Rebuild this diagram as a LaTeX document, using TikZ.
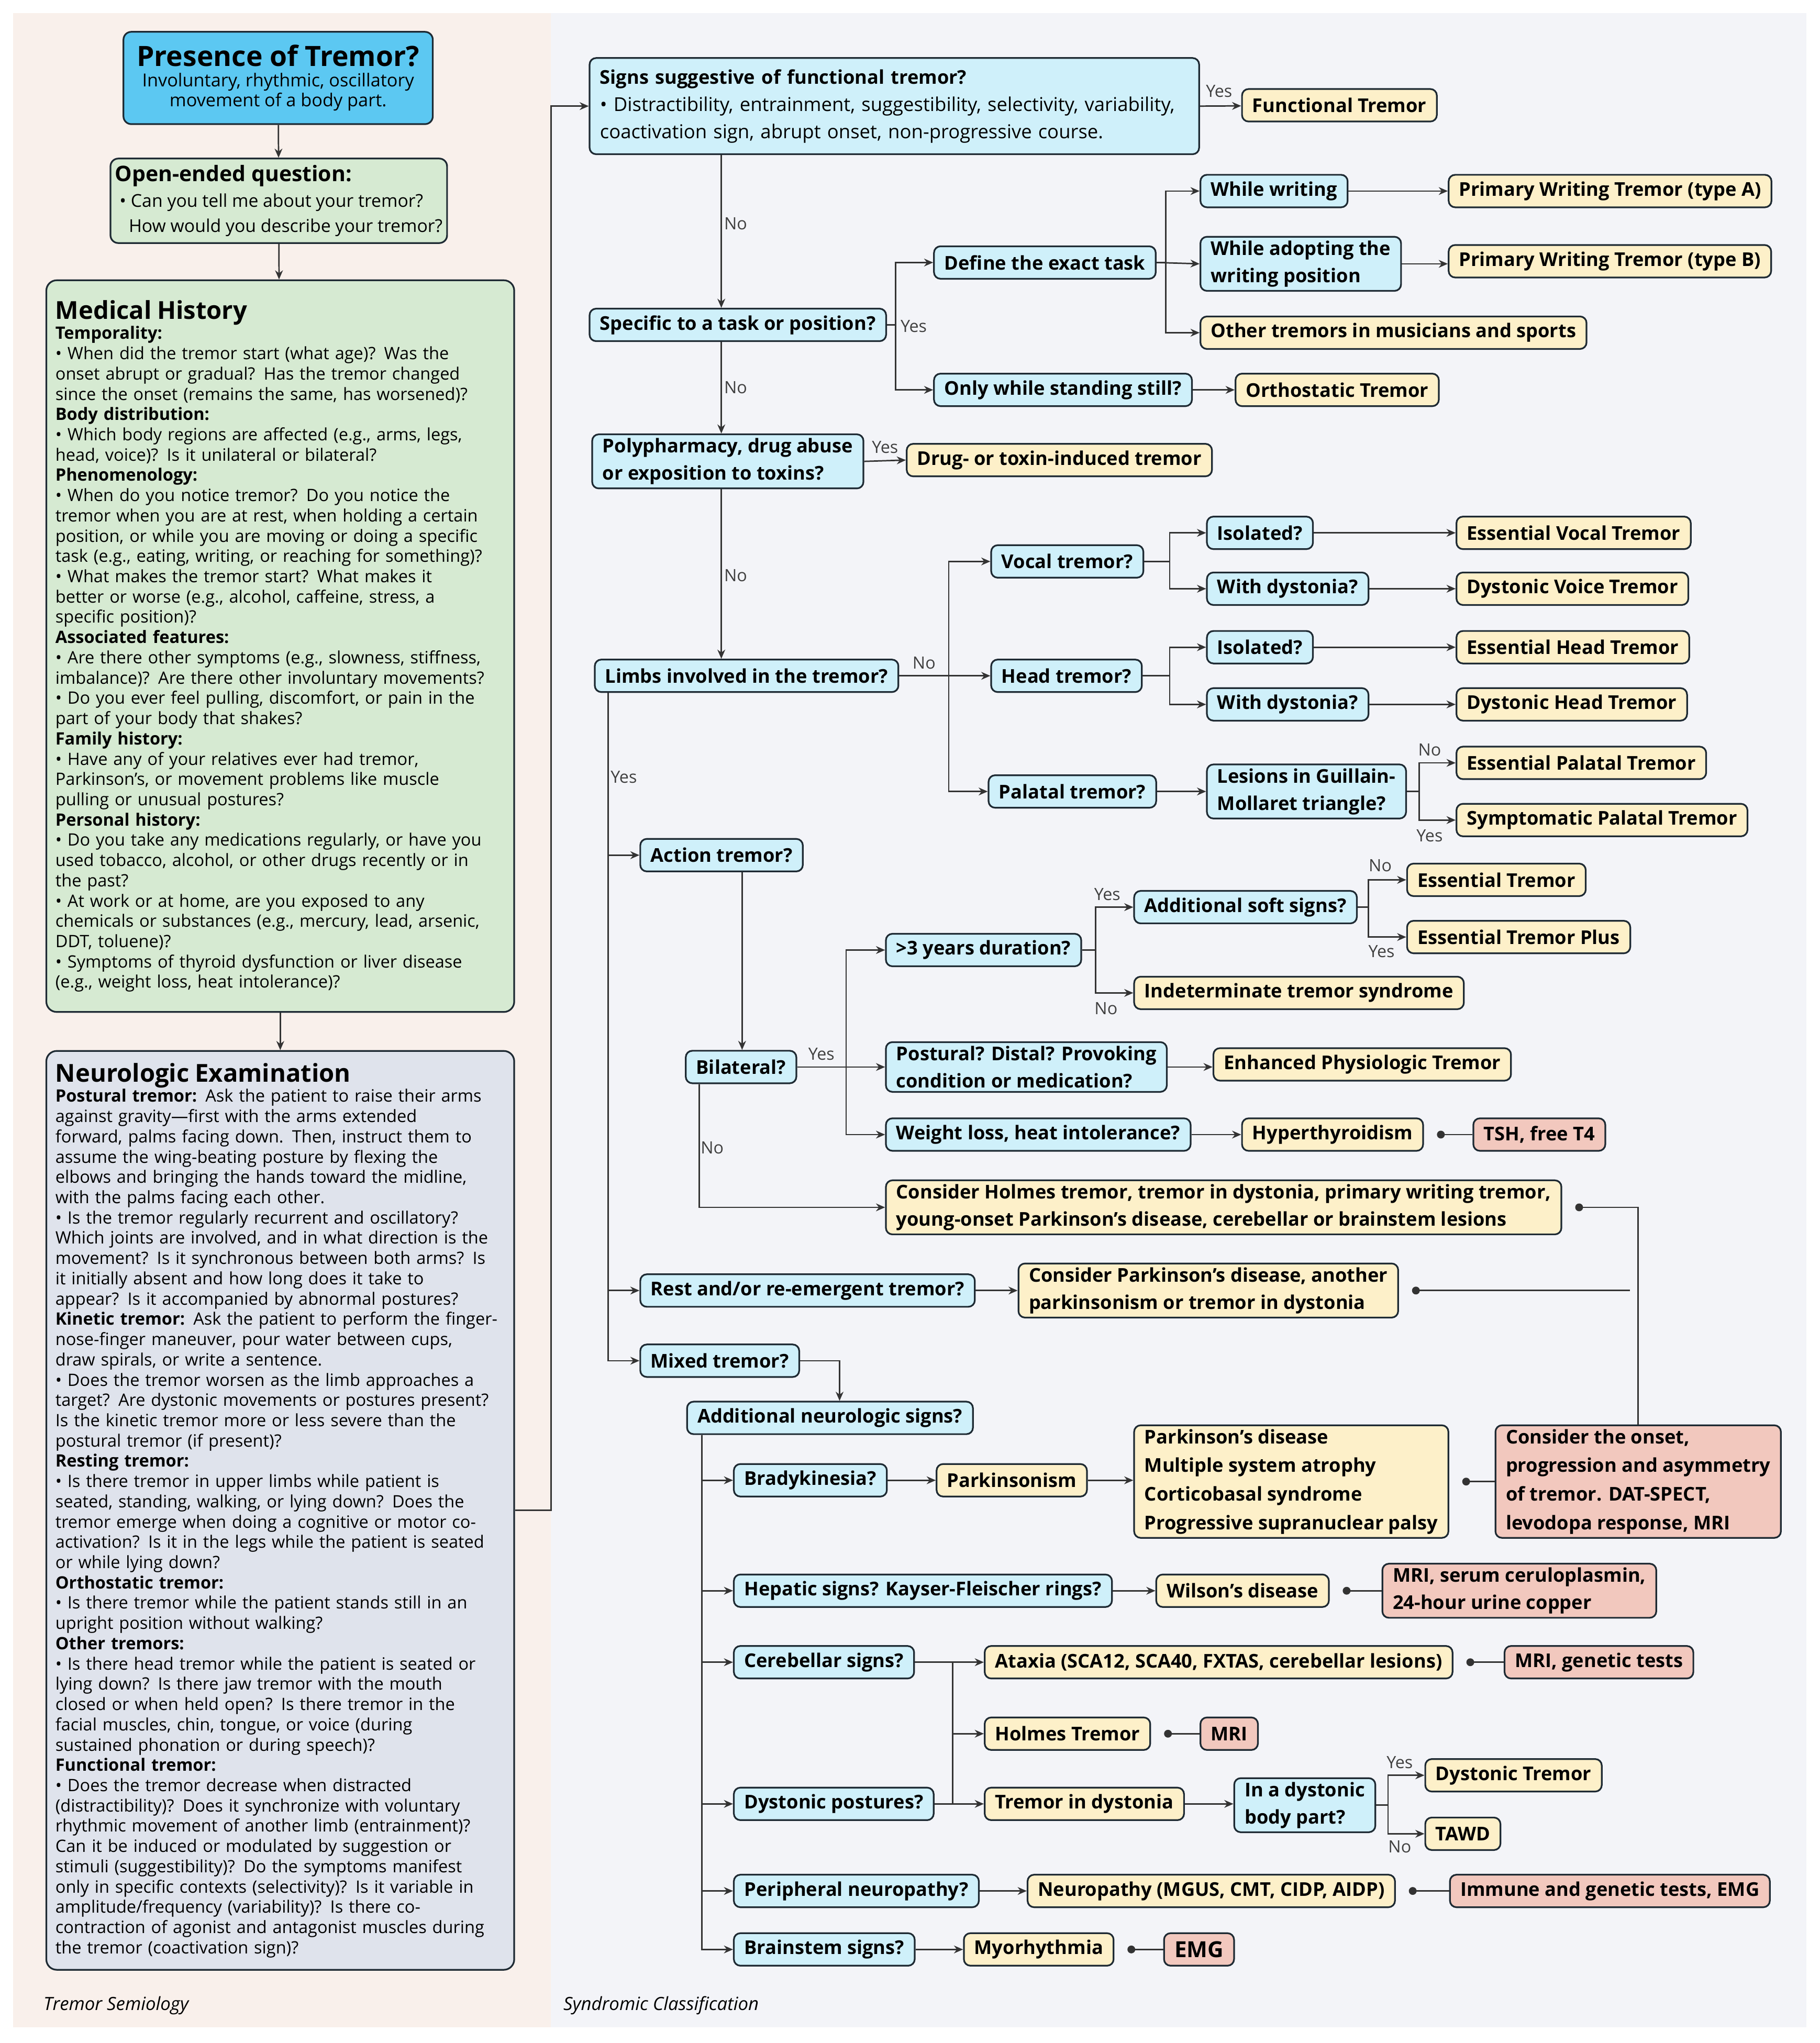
\documentclass[tikz,border=0pt]{standalone}
\usepackage{fontspec}
\setmainfont{Open Sans}
\usetikzlibrary{arrows.meta}
\definecolor{qb}{HTML}{CFF0FA}
\definecolor{ry}{HTML}{FDF0C9}
\definecolor{tr}{HTML}{F2C8BE}
\definecolor{gr}{HTML}{D6EAD2}
\definecolor{gy}{HTML}{DFE3EC}
\definecolor{tb}{HTML}{5CC8F2}
\definecolor{bgL}{HTML}{F9F0EB}
\definecolor{bgR}{HTML}{F3F4F8}
\definecolor{edge}{HTML}{1E2A33}
\definecolor{lnc}{HTML}{333333}
\begin{document}
\begin{tikzpicture}[x=1pt,y=-1pt,
 box/.style={draw=edge, line width=1.3pt, rounded corners=5pt, font=\fontsize{14.6}{21}\selectfont\bfseries, inner xsep=8pt, inner ysep=3pt, minimum height=25pt, align=left, anchor=west},
 q/.style={box, fill=qb}, r/.style={box, fill=ry}, t/.style={box, fill=tr},
 arr/.style={line width=1.1pt, draw=lnc, -{Stealth[length=7pt,width=6pt]}},
 ln/.style={line width=1.1pt, draw=lnc},
 dl/.style={line width=1.1pt, draw=lnc, {Circle[length=6pt]}-, shorten <=10pt},
 lab/.style={font=\fontsize{13}{15}\selectfont, text=black!75},
 big/.style={draw=edge, line width=1.3pt, rounded corners=8pt, anchor=north west, align=left, inner xsep=7pt, inner ysep=5pt, font=\fontsize{13.1}{15.6}\selectfont, text width=346pt}]
\useasboundingbox (0,0) rectangle (1400,1572);
\fill[white] (0,0) rectangle (1400,1572);
\fill[bgL] (10,10) rectangle (424,1560);
\fill[bgR] (424,10) rectangle (1390,1560);
\node[anchor=west, font=\fontsize{14}{16}\selectfont\itshape] (capL) at (30,1543) {Tremor Semiology};
\node[anchor=west, font=\fontsize{14}{16}\selectfont\itshape] (capR) at (430,1543) {Syndromic Classification};

% left
\node[draw=edge, line width=1.3pt, rounded corners=6pt, fill=tb, minimum width=238pt, minimum height=71pt, align=center, inner sep=3pt, font=\fontsize{13.8}{15.5}\selectfont] (pres) at (214,60) {{\fontsize{21.5}{24}\selectfont\bfseries Presence of Tremor?}\\ Involuntary, rhythmic, oscillatory\\ movement of a body part.};
\node[draw=edge, line width=1.3pt, rounded corners=6pt, fill=gr, minimum width=259pt, minimum height=65pt, align=left, inner sep=3pt, font=\fontsize{13.6}{19.5}\selectfont] (oeq) at (214.5,154.5) {{\fontsize{16.5}{19}\selectfont\bfseries Open-ended question:}\\ \ \textbullet\ Can you tell me about your tremor?\\ \ \ \ How would you describe your tremor?};
\node[big, fill=gr, minimum height=563pt] (mh) at (35,215) {{\fontsize{19}{19}\selectfont\bfseries Medical History}\\
\textbf{Temporality:}\\
\textbullet\ When did the tremor start (what age)? Was the\\
onset abrupt or gradual? Has the tremor changed\\
since the onset (remains the same, has worsened)?\\
\textbf{Body distribution:}\\
\textbullet\ Which body regions are affected (e.g., arms, legs,\\
head, voice)? Is it unilateral or bilateral?\\
\textbf{Phenomenology:}\\
\textbullet\ When do you notice tremor? Do you notice the\\
tremor when you are at rest, when holding a certain\\
position, or while you are moving or doing a specific\\
task (e.g., eating, writing, or reaching for something)?\\
\textbullet\ What makes the tremor start? What makes it\\
better or worse (e.g., alcohol, caffeine, stress, a\\
specific position)?\\
\textbf{Associated features:}\\
\textbullet\ Are there other symptoms (e.g., slowness, stiffness,\\
imbalance)? Are there other involuntary movements?\\
\textbullet\ Do you ever feel pulling, discomfort, or pain in the\\
part of your body that shakes?\\
\textbf{Family history:}\\
\textbullet\ Have any of your relatives ever had tremor,\\
Parkinson’s, or movement problems like muscle\\
pulling or unusual postures?\\
\textbf{Personal history:}\\
\textbullet\ Do you take any medications regularly, or have you\\
used tobacco, alcohol, or other drugs recently or in\\
the past?\\
\textbullet\ At work or at home, are you exposed to any\\
chemicals or substances (e.g., mercury, lead, arsenic,\\
DDT, toluene)?\\
\textbullet\ Symptoms of thyroid dysfunction or liver disease\\
(e.g., weight loss, heat intolerance)?};
\node[big, fill=gy, minimum height=707pt] (ne) at (35,808) {{\fontsize{19}{19}\selectfont\bfseries Neurologic Examination}\\
\textbf{Postural tremor:} Ask the patient to raise their arms\\
against gravity—first with the arms extended\\
forward, palms facing down. Then, instruct them to\\
assume the wing-beating posture by flexing the\\
elbows and bringing the hands toward the midline,\\
with the palms facing each other.\\
\textbullet\ Is the tremor regularly recurrent and oscillatory?\\
Which joints are involved, and in what direction is the\\
movement? Is it synchronous between both arms? Is\\
it initially absent and how long does it take to\\
appear? Is it accompanied by abnormal postures?\\
\mbox{\textbf{Kinetic tremor:} Ask the patient to perform the finger-}\\
nose-finger maneuver, pour water between cups,\\
draw spirals, or write a sentence.\\
\textbullet\ Does the tremor worsen as the limb approaches a\\
target? Are dystonic movements or postures present?\\
Is the kinetic tremor more or less severe than the\\
postural tremor (if present)?\\
\textbf{Resting tremor:}\\
\textbullet\ Is there tremor in upper limbs while patient is\\
seated, standing, walking, or lying down? Does the\\
tremor emerge when doing a cognitive or motor co-\\
activation? Is it in the legs while the patient is seated\\
or while lying down?\\
\textbf{Orthostatic tremor:}\\
\textbullet\ Is there tremor while the patient stands still in an\\
upright position without walking?\\
\textbf{Other tremors:}\\
\textbullet\ Is there head tremor while the patient is seated or\\
lying down? Is there jaw tremor with the mouth\\
closed or when held open? Is there tremor in the\\
facial muscles, chin, tongue, or voice (during\\
sustained phonation or during speech)?\\
\textbf{Functional tremor:}\\
\textbullet\ Does the tremor decrease when distracted\\
(distractibility)? Does it synchronize with voluntary\\
rhythmic movement of another limb (entrainment)?\\
Can it be induced or modulated by suggestion or\\
stimuli (suggestibility)? Do the symptoms manifest\\
only in specific contexts (selectivity)? Is it variable in\\
amplitude/frequency (variability)? Is there co-\\
contraction of agonist and antagonist muscles during\\
the tremor (coactivation sign)?};
\draw[arr] (pres) -- (oeq);
\draw[arr] (oeq) -- (mh);
\draw[arr] (mh) -- (ne);

% right
\node[q, anchor=north west, minimum height=74pt, text width=453pt, font=\fontsize{14.7}{21}\selectfont] (sf) at (453,44) {{\bfseries\fontsize{14.6}{21}\selectfont Signs suggestive of functional tremor?}\\ \textbullet\ Distractibility, entrainment, suggestibility, selectivity, variability,\\ coactivation sign, abrupt onset, non-progressive course.};
\node[r] (ft) at (955,81) {Functional Tremor};
\node[q] (spec) at (453,250) {Specific to a task or position?};
\node[q] (def) at (718,202) {Define the exact task};
\node[q] (ww) at (923,147) {While writing};
\node[q] (wa) at (923,203) {While adopting the\\writing position};
\node[r] (ot) at (923,256) {Other tremors in musicians and sports};
\node[r] (pwa) at (1114,147) {Primary Writing Tremor (type A)};
\node[r] (pwb) at (1114,201) {Primary Writing Tremor (type B)};
\node[q] (oss) at (718,300) {Only while standing still?};
\node[r] (orth) at (950,300) {Orthostatic Tremor};
\node[q] (poly) at (455,355) {Polypharmacy, drug abuse\\or exposition to toxins?};
\node[r] (drug) at (697,354) {Drug- or toxin-induced tremor};
\node[q] (limbs) at (457,520) {Limbs involved in the tremor?};
\node[q] (vocal) at (762,432) {Vocal tremor?};
\node[q] (iso1) at (928,410) {Isolated?};
\node[q] (wd1) at (928,453) {With dystonia?};
\node[r] (evt) at (1120,410) {Essential Vocal Tremor};
\node[r] (dvt) at (1120,453) {Dystonic Voice Tremor};
\node[q] (head) at (762,520) {Head tremor?};
\node[q] (iso2) at (928,498) {Isolated?};
\node[q] (wd2) at (928,542) {With dystonia?};
\node[r] (eht) at (1120,498) {Essential Head Tremor};
\node[r] (dht) at (1120,542) {Dystonic Head Tremor};
\node[q] (pal) at (760,609) {Palatal tremor?};
\node[q] (les) at (928,609) {Lesions in Guillain-\\Mollaret triangle?};
\node[r] (ept) at (1120,587) {Essential Palatal Tremor};
\node[r] (spt) at (1120,631) {Symptomatic Palatal Tremor};
\node[q] (act) at (492,658) {Action tremor?};
\node[q] (dur) at (681,731) {>3 years duration?};
\node[q] (add) at (872,698) {Additional soft signs?};
\node[r] (et) at (1082,677) {Essential Tremor};
\node[r] (etp) at (1082,721) {Essential Tremor Plus};
\node[r] (ind) at (872,764) {Indeterminate tremor syndrome};
\node[q] (bil) at (527,821) {Bilateral?};
\node[q] (post) at (681,821) {Postural? Distal? Provoking\\condition or medication?};
\node[r] (ept2) at (933,819) {Enhanced Physiologic Tremor};
\node[q] (wl) at (681,873) {Weight loss, heat intolerance?};
\node[r] (hyp) at (955,873) {Hyperthyroidism};
\node[t] (tsh) at (1133,873) {TSH, free T4};
\node[r] (hol) at (681,929) {Consider Holmes tremor, tremor in dystonia, primary writing tremor,\\young-onset Parkinson’s disease, cerebellar or brainstem lesions};
\node[q] (rest) at (492,993) {Rest and/or re-emergent tremor?};
\node[r] (pd) at (783,993) {Consider Parkinson's disease, another\\parkinsonism or tremor in dystonia};
\node[q] (mix) at (492,1047) {Mixed tremor?};
\node[q] (ans) at (528,1091) {Additional neurologic signs?};
\node[q] (brad) at (564,1139) {Bradykinesia?};
\node[r] (park) at (720,1139) {Parkinsonism};
\node[r, font=\fontsize{14.6}{22}\selectfont\bfseries] (pdl) at (872,1140) {Parkinson's disease\\Multiple system atrophy\\Corticobasal syndrome\\Progressive supranuclear palsy};
\node[t, font=\fontsize{14.6}{22}\selectfont\bfseries] (cons) at (1150,1140) {Consider the onset,\\progression and asymmetry\\of tremor. DAT-SPECT,\\levodopa response, MRI};
\node[q] (hep) at (564,1224) {Hepatic signs? Kayser-Fleischer rings?};
\node[r] (wil) at (889,1224) {Wilson’s disease};
\node[t] (mri1) at (1063,1224) {MRI, serum ceruloplasmin,\\24-hour urine copper};
\node[q] (cer) at (564,1279) {Cerebellar signs?};
\node[r] (atx) at (757,1279) {Ataxia (SCA12, SCA40, FXTAS, cerebellar lesions)};
\node[t] (mgt) at (1157,1279) {MRI, genetic tests};
\node[r] (holm) at (757,1334) {Holmes Tremor};
\node[t] (mri2) at (923,1334) {MRI};
\node[q] (dys) at (564,1388) {Dystonic postures?};
\node[r] (tid) at (757,1388) {Tremor in dystonia};
\node[q] (idb) at (949,1389) {In a dystonic\\body part?};
\node[r] (dt) at (1096,1366) {Dystonic Tremor};
\node[r] (tawd) at (1096,1411) {TAWD};
\node[q] (pn) at (564,1455) {Peripheral neuropathy?};
\node[r] (neu) at (790,1455) {Neuropathy (MGUS, CMT, CIDP, AIDP)};
\node[t] (igt) at (1115,1455) {Immune and genetic tests, EMG};
\node[q] (bs) at (564,1500) {Brainstem signs?};
\node[r] (myo) at (741,1500) {Myorhythmia};
\node[t, font=\fontsize{17}{19}\selectfont\bfseries] (emg) at (895,1500) {EMG};

% junction coordinates
\coordinate (jne) at (424,81);
\coordinate (jmain) at (555,0);
\coordinate (jspec) at (689,0);
\coordinate (jdef) at (897,0);
\coordinate (jlimb) at (730,0);
\coordinate (jv) at (900,0);
\coordinate (jles) at (1092,0);
\coordinate (jy) at (468,0);
\coordinate (jact) at (571,0);
\coordinate (jbil) at (651,0);
\coordinate (jbn) at (538,0);
\coordinate (jdur) at (843,0);
\coordinate (jadd) at (1053,0);
\coordinate (jmix) at (646,0);
\coordinate (jans) at (540,0);
\coordinate (jcer) at (733,0);
\coordinate (jidb) at (1068,0);
\coordinate (jcons) at (1254,0);

\draw[arr] (ne.east) -| (jne |- ne.east) |- (sf.west);
\draw[arr] (sf.east) -- (ft);
\draw[arr] (sf.south -| jmain) -- (spec.north -| jmain);
\draw[arr] (spec.south -| jmain) -- (poly.north -| jmain);
\draw[arr] (poly.south -| jmain) -- (limbs.north -| jmain);
\draw[arr] (spec.east) -| (jspec |- spec.east) |- (def.west);
\draw[arr] (jspec |- spec.east) |- (oss.west);
\draw[arr] (def.east) -| (jdef |- def.east) |- (ww.west);
\draw[arr] (def.east) -- (wa.west);
\draw[arr] (jdef |- def.east) |- (ot.west);
\draw[arr] (ww) -- (pwa);
\draw[arr] (wa.east) -- (pwb.west |- wa.east);
\draw[arr] (oss) -- (orth);
\draw[arr] (poly.east) -- (drug.west);
\draw[arr] (limbs.east) -- (head.west);
\draw[arr] (jlimb |- limbs.east) |- (vocal.west);
\draw[arr] (jlimb |- limbs.east) |- (pal.west);
\draw[arr] (vocal.east) -| (jv |- vocal.east) |- (iso1.west);
\draw[arr] (jv |- vocal.east) |- (wd1.west);
\draw[arr] (head.east) -| (jv |- head.east) |- (iso2.west);
\draw[arr] (jv |- head.east) |- (wd2.west);
\draw[arr] (pal) -- (les);
\draw[arr] (les.east) -| (jles |- les.east) |- (ept.west);
\draw[arr] (jles |- les.east) |- (spt.west);
\draw[arr] (iso1) -- (evt);
\draw[arr] (wd1) -- (dvt);
\draw[arr] (iso2) -- (eht);
\draw[arr] (wd2) -- (dht);
\draw[arr] (jy |- limbs.south) |- (act.west);
\draw[arr] (jy |- limbs.south) |- (rest.west);
\draw[arr] (jy |- limbs.south) |- (mix.west);
\draw[arr] (jact |- act.south) -- (jact |- bil.north);
\draw[arr] (bil.east) -- (post.west);
\draw[arr] (jbil |- bil.east) |- (dur.west);
\draw[arr] (jbil |- bil.east) |- (wl.west);
\draw[arr] (jbn |- bil.south) |- (hol.west);
\draw[arr] (dur.east) -| (jdur |- dur.east) |- (add.west);
\draw[arr] (jdur |- dur.east) |- (ind.west);
\draw[arr] (add.east) -| (jadd |- add.east) |- (et.west);
\draw[arr] (jadd |- add.east) |- (etp.west);
\draw[arr] (post.east) -- (ept2.west |- post.east);
\draw[arr] (wl) -- (hyp);
\draw[dl] (hyp) -- (tsh);
\draw[dl] (hol.east) -| (cons.north);
\draw[dl] (pd.east) -- (pd.east -| jcons);
\draw[arr] (rest) -- (pd);
\draw[arr] (mix.east) -| (jmix |- ans.north);
\draw[arr] (jans |- ans.south) |- (brad.west);
\draw[arr] (jans |- ans.south) |- (hep.west);
\draw[arr] (jans |- ans.south) |- (cer.west);
\draw[arr] (jans |- ans.south) |- (dys.west);
\draw[arr] (jans |- ans.south) |- (pn.west);
\draw[arr] (jans |- ans.south) |- (bs.west);
\draw[arr] (brad) -- (park);
\draw[arr] (park) -- (park -| pdl.west);
\draw[dl] (pdl.east) -- (pdl.east -| cons.west);
\draw[arr] (hep) -- (wil);
\draw[dl] (wil) -- (mri1);
\draw[arr] (cer.east) -- (atx.west);
\draw[ln] (jcer |- atx.west) -- (jcer |- tid.west);
\draw[arr] (jcer |- holm.west) -- (holm.west);
\draw[arr] (dys.east) -- (tid.west);
\draw[dl] (atx) -- (mgt);
\draw[dl] (holm) -- (mri2);
\draw[arr] (tid.east) -- (tid.east -| idb.west);
\draw[arr] (idb.east) -| (jidb |- idb.east) |- (dt.west);
\draw[arr] (jidb |- idb.east) |- (tawd.west);
\draw[arr] (pn) -- (neu);
\draw[dl] (neu) -- (igt);
\draw[arr] (bs) -- (myo);
\draw[dl] (myo) -- (emg);

% labels
\node[lab] (l1) at (938,70) {Yes};
\node[lab] (l2) at (566,172) {No};
\node[lab] (l3) at (703,251) {Yes};
\node[lab] (l4) at (566,298) {No};
\node[lab] (l5) at (681,344) {Yes};
\node[lab] (l6) at (566,443) {No};
\node[lab] (l7) at (711,510) {No};
\node[lab] (l8) at (1100,577) {No};
\node[lab] (l9) at (1100,643) {Yes};
\node[lab] (l10) at (480,598) {Yes};
\node[lab] (l11) at (852,688) {Yes};
\node[lab] (l12) at (851,776) {No};
\node[lab] (l13) at (1062,666) {No};
\node[lab] (l14) at (1063,732) {Yes};
\node[lab] (l15) at (632,811) {Yes};
\node[lab] (l16) at (548,883) {No};
\node[lab] (l17) at (1077,1356) {Yes};
\node[lab] (l18) at (1077,1421) {No};
\end{tikzpicture}
\end{document}
